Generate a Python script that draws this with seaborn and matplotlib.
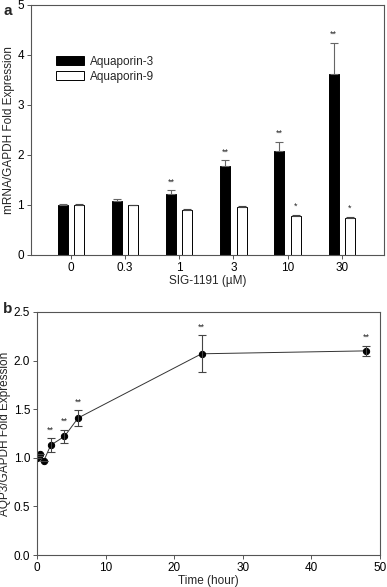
import numpy as np
import pandas as pd
import matplotlib
matplotlib.use("Agg")
import matplotlib.pyplot as plt
import seaborn as sns

# panel a data
doses = ["0", "0.3", "1", "3", "10", "30"]
aqp3 = [1.00, 1.07, 1.22, 1.77, 2.07, 3.61]
aqp3_err = [0.01, 0.04, 0.07, 0.12, 0.19, 0.63]
aqp9 = [1.00, 0.99, 0.90, 0.96, 0.78, 0.74]
aqp9_err = [0.02, 0.01, 0.01, 0.01, 0.02, 0.02]
aqp3_sig = ["", "", "**", "**", "**", "**"]
aqp9_sig = ["", "", "", "", "*", "*"]

# panel b data
hours = [0, 0.25, 0.5, 1, 2, 4, 6, 24, 48]
aqp3_time = [1.00, 1.02, 1.04, 0.97, 1.13, 1.22, 1.41, 2.07, 2.10]
aqp3_time_err = [0.0, 0.0, 0.0, 0.0, 0.07, 0.065, 0.08, 0.19, 0.05]
time_sig = ["", "", "", "", "**", "**", "**", "**", "**"]

sns.set_style("ticks")
plt.rcParams['font.family'] = ['Liberation Sans', 'DejaVu Sans']
plt.rcParams['axes.edgecolor'] = '#555555'
plt.rcParams['xtick.color'] = '#555555'
plt.rcParams['ytick.color'] = '#555555'
plt.rcParams['xtick.labelcolor'] = 'black'
plt.rcParams['ytick.labelcolor'] = 'black'
fs = 8.5

fig = plt.figure(figsize=(3.87, 5.87), dpi=100)

# ✅ panel a: bar chart
ax1 = fig.add_axes([0.080, 0.5656, 0.912, 0.426])
df = pd.DataFrame({
    "dose": doses * 2,
    "value": aqp3 + aqp9,
    "gene": ["Aquaporin-3"] * len(doses) + ["Aquaporin-9"] * len(doses),
})
sns.barplot(data=df, x="dose", y="value", hue="gene", order=doses,
            palette={"Aquaporin-3": "black", "Aquaporin-9": "white"},
            edgecolor="black", linewidth=0.7, width=0.6, gap=0.38,
            errorbar=None, ax=ax1)

idx = np.arange(len(doses))
off = 0.15
ax1.errorbar(idx - off, aqp3, yerr=[np.zeros(len(doses)), aqp3_err], fmt="none",
             ecolor="#666666", elinewidth=0.8, capsize=3, capthick=0.8)
ax1.errorbar(idx + off, aqp9, yerr=[np.zeros(len(doses)), aqp9_err], fmt="none",
             ecolor="#444444", elinewidth=0.8, capsize=3, capthick=0.8)
for i in idx:
    if aqp3_sig[i]:
        ax1.text(i - off, aqp3[i] + aqp3_err[i] + 0.08, aqp3_sig[i], ha="center",
                 va="bottom", fontsize=6.5)
    if aqp9_sig[i]:
        ax1.text(i + off, aqp9[i] + aqp9_err[i] + 0.08, aqp9_sig[i], ha="center",
                 va="bottom", fontsize=6.5)

ax1.set_xlim(-0.74, 5.78)
ax1.set_ylim(0, 5)
ax1.set_yticks([0, 1, 2, 3, 4, 5])
ax1.set_xlabel("SIG-1191 (µM)", fontsize=fs, labelpad=1)
ax1.set_ylabel("mRNA/GAPDH Fold Expression", fontsize=fs, labelpad=2)
ax1.tick_params(labelsize=fs, length=3, width=0.7, pad=2)
for s in ax1.spines.values():
    s.set_linewidth(0.8)
ax1.legend(title=None, frameon=False, fontsize=fs, loc="upper left",
           bbox_to_anchor=(0.04, 0.84), handlelength=2.4, handleheight=0.8,
           labelspacing=0.25, handletextpad=0.5)
fig.text(0.008, 0.993, "a", fontsize=11, fontweight="bold", va="top")

# ✅ panel b: time course
ax2 = fig.add_axes([0.0956, 0.0545, 0.886, 0.414])
tdf = pd.DataFrame({"hour": hours, "value": aqp3_time})
sns.lineplot(data=tdf, x="hour", y="value", color="#333333", linewidth=0.7,
             marker="o", markersize=4.5, markerfacecolor="black",
             markeredgecolor="black", ax=ax2)
ax2.errorbar(hours, aqp3_time, yerr=aqp3_time_err, fmt="none", ecolor="#444444",
             elinewidth=0.8, capsize=3, capthick=0.8)
for h, v, e, s in zip(hours, aqp3_time, aqp3_time_err, time_sig):
    if s:
        ax2.text(h, v + e + 0.04, s, ha="center", va="bottom", fontsize=6.5)

ax2.set_xlim(0, 50)
ax2.set_ylim(0, 2.5)
ax2.set_xticks([0, 10, 20, 30, 40, 50])
ax2.set_yticks([0.0, 0.5, 1.0, 1.5, 2.0, 2.5])
ax2.set_yticklabels([f"{t:.1f}" for t in [0.0, 0.5, 1.0, 1.5, 2.0, 2.5]])
ax2.set_xlabel("Time (hour)", fontsize=fs, labelpad=1)
ax2.set_ylabel("AQP3/GAPDH Fold Expression", fontsize=fs, labelpad=2)
ax2.tick_params(labelsize=fs, length=3, width=0.7, pad=2)
for s in ax2.spines.values():
    s.set_linewidth(0.8)
fig.text(0.008, 0.485, "b", fontsize=11, fontweight="bold", va="top")

fig.savefig("out.png", dpi=100)
